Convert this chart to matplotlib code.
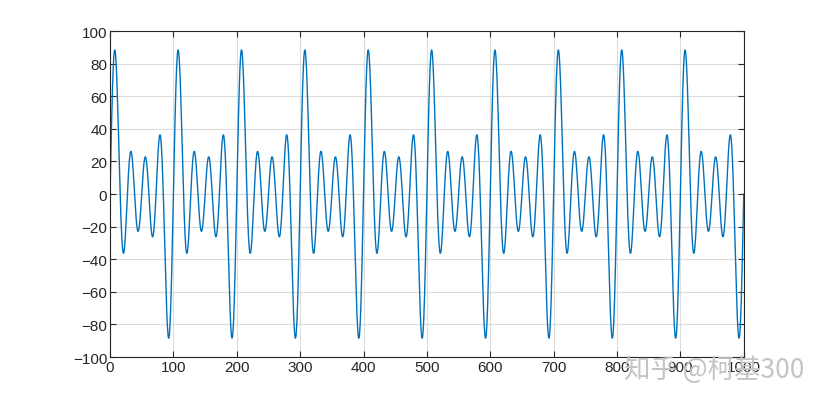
import numpy as np
import matplotlib
matplotlib.use('Agg')
import matplotlib.pyplot as plt

# Sine components of the signal (period 100 samples)
harmonics = [1, 2, 3, 4]
amplitudes = [10, 20, 30, 40]
period = 100
x_end = 1000

t = np.arange(0, x_end + 0.5, 0.5)
w = 2 * np.pi * np.array(harmonics) / period
y = np.sin(np.outer(t, w)) @ np.array(amplitudes, dtype=float)

plt.rcParams['font.family'] = ['Liberation Sans', 'DejaVu Sans']
fig = plt.figure(figsize=(8.23, 4.06), dpi=100)
ax = fig.add_axes([0.1337, 0.118, 0.77, 0.803])
ax.plot(t, y, color='#0072BD', lw=1.0)
ax.set_xlim(0, 1000)
ax.set_ylim(-100, 100)
ax.set_xticks(range(0, 1001, 100))
ax.set_yticks(range(-100, 101, 20))
ax.grid(True, color='#dcdcdc', lw=0.8)
ax.tick_params(direction='in', top=True, right=True, labelsize=11, length=4, pad=2,
               colors='#262626')
for s in ax.spines.values():
    s.set_color('#262626')
    s.set_linewidth(0.8)

fig.text(0.977, 0.055, '知乎 @柯基300', ha='right', va='bottom', fontsize=19,
         color='#c4c4c4', family=['Noto Sans CJK SC', 'DejaVu Sans'])

fig.savefig('out.png', dpi=100)
